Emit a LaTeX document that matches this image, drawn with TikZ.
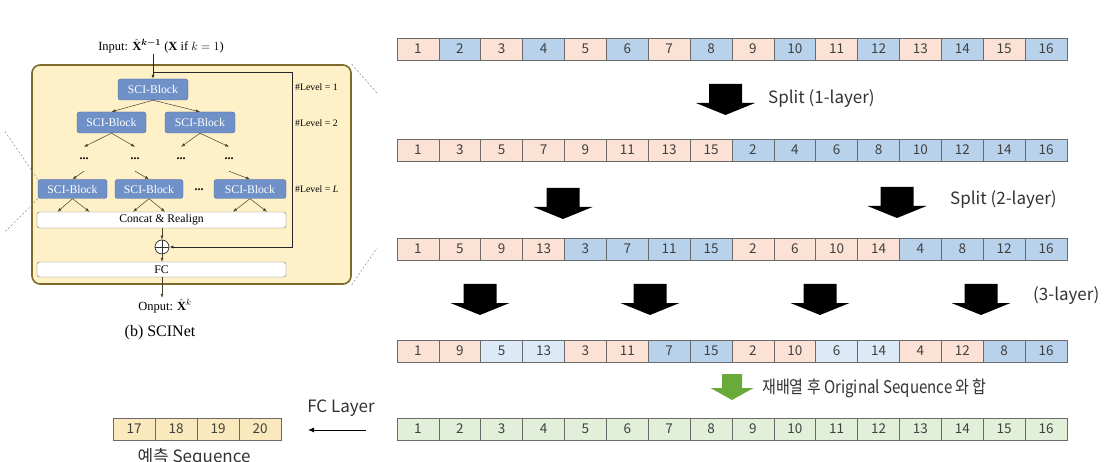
\documentclass[tikz,border=0pt]{standalone}
\usepackage{fontspec}
\usepackage{bm}
\setmainfont{Liberation Serif}
\newfontfamily\kr{Noto Sans CJK KR}
\newfontfamily\krc[FakeStretch=0.86]{Noto Sans CJK KR}
\usetikzlibrary{arrows.meta,calc}
\definecolor{pinkc}{HTML}{FBE2D5}
\definecolor{bluec}{HTML}{B9D2EB}
\definecolor{lbluec}{HTML}{DCEAF7}
\definecolor{greenc}{HTML}{E3F0D9}
\definecolor{yellc}{HTML}{F9E9BC}
\definecolor{cellborder}{HTML}{6A6A6A}
\definecolor{boxfill}{HTML}{FEF0C7}
\definecolor{boxborder}{HTML}{7E6A2A}
\definecolor{scifill}{HTML}{7090C8}
\definecolor{sciborder}{HTML}{4E6C9E}
\definecolor{treeline}{HTML}{4A4030}
\definecolor{arrgreen}{HTML}{6AAA3A}
\begin{document}
\begin{tikzpicture}[x=1pt,y=-1pt,
 cell/.style={draw=cellborder, line width=0.7pt, minimum width=41.875pt, minimum height=22pt, inner sep=0pt, font=\kr\fontsize{13.5}{15}\selectfont, text=black!75},
 sci/.style={draw=sciborder, fill=scifill, rounded corners=2.5pt, text=white, minimum height=21pt, minimum width=70pt, inner sep=0pt, font=\fontsize{11.7}{13}\selectfont},
 wbar/.style={draw=black!55, fill=white, rounded corners=2.5pt, minimum width=249pt, inner sep=0pt, font=\fontsize{11.7}{13}\selectfont},
 tree/.style={draw=treeline, line width=0.5pt, -{Latex[length=4pt,width=3pt]}},
 mainline/.style={draw=black!85, line width=0.9pt, -{Latex[length=4pt,width=3pt]}},
 zoomline/.style={draw=black!45, dash pattern=on 2pt off 2pt, line width=0.5pt},
 lvl/.style={anchor=west, font=\fontsize{9.8}{11}\selectfont, inner sep=0pt},
 dots/.style={font=\bfseries\fontsize{12}{12}\selectfont, inner sep=0pt, minimum height=24pt},
 lab/.style={anchor=west, font=\kr\fontsize{17}{19}\selectfont, text=black!80, inner sep=0pt},
 downarr/.pic={\path[pic actions] (-16.5,0) -- (16.5,0) -- (16.5,19) -- (29.5,19) -- (0,31) -- (-29.5,19) -- (-16.5,19) -- cycle;},
 greenarr/.pic={\path[pic actions] (-10,0) -- (10,0) -- (10,14) -- (21.5,14) -- (0,26) -- (-21.5,14) -- (-10,14) -- cycle;},
]
\useasboundingbox (0,0) rectangle (1108,462);
\fill[white] (0,0) rectangle (1108,462);

% ---------------- sequences ----------------
\foreach \n/\c [count=\i] in {1/pinkc,2/bluec,3/pinkc,4/bluec,5/pinkc,6/bluec,7/pinkc,8/bluec,9/pinkc,10/bluec,11/pinkc,12/bluec,13/pinkc,14/bluec,15/pinkc,16/bluec}
  \node[cell, fill=\c] (ra\i) at ({397+(\i-0.5)*41.875}, 49) {\n};
\foreach \n/\c [count=\i] in {1/pinkc,3/pinkc,5/pinkc,7/pinkc,9/pinkc,11/pinkc,13/pinkc,15/pinkc,2/bluec,4/bluec,6/bluec,8/bluec,10/bluec,12/bluec,14/bluec,16/bluec}
  \node[cell, fill=\c] (rb\i) at ({397+(\i-0.5)*41.875}, 150) {\n};
\foreach \n/\c [count=\i] in {1/pinkc,5/pinkc,9/pinkc,13/pinkc,3/bluec,7/bluec,11/bluec,15/bluec,2/pinkc,6/pinkc,10/pinkc,14/pinkc,4/bluec,8/bluec,12/bluec,16/bluec}
  \node[cell, fill=\c] (rc\i) at ({397+(\i-0.5)*41.875}, 249) {\n};
\foreach \n/\c [count=\i] in {1/pinkc,9/pinkc,5/lbluec,13/lbluec,3/pinkc,11/pinkc,7/bluec,15/bluec,2/pinkc,10/pinkc,6/lbluec,14/lbluec,4/pinkc,12/pinkc,8/bluec,16/bluec}
  \node[cell, fill=\c] (rd\i) at ({397+(\i-0.5)*41.875}, 351) {\n};
\foreach \n [count=\i] in {1,...,16}
  \node[cell, fill=greenc] (re\i) at ({397+(\i-0.5)*41.875}, 429) {\n};
\foreach \n [count=\i] in {17,18,19,20}
  \node[cell, fill=yellc, minimum width=42pt] (p\i) at ({113+(\i-0.5)*42}, 429) {\n};

% block arrows
\pic[fill=black] at (725.5,84) {downarr};
\pic[fill=black] at (563,188) {downarr};
\pic[fill=black] at (897,187) {downarr};
\pic[fill=black] at (480,284) {downarr};
\pic[fill=black] at (650,284) {downarr};
\pic[fill=black] at (820,284) {downarr};
\pic[fill=black] at (981,284) {downarr};
\pic[fill=arrgreen] at (732,374) {greenarr};

% labels
\node[lab] (s1) at (768,99) {Split (1-layer)};
\node[lab] (s2) at (950,200) {Split (2-layer)};
\node[lab] (s3) at (1033,296) {(3-layer)};
\node[lab, font=\krc\fontsize{17.5}{19}\selectfont] (s4) at (762,388) {재배열 후 Original Sequence 와 합};
\node[lab, anchor=center] (fcl) at (341,408) {FC Layer};
\coordinate (fcA) at (366,430);
\coordinate (fcB) at (308,430);
\draw[-{Latex[length=6pt,width=5pt]}, line width=0.9pt] (fcA) -- (fcB);
\node[lab, anchor=center] (pred) at (194,457) {예측 Sequence};

% ---------------- SCINet ----------------
\node[draw=boxborder, fill=boxfill, line width=1.6pt, rounded corners=8pt, minimum width=319pt, minimum height=219pt, inner sep=0pt] (bigbox) at (191.5,174.5) {};

\node[font=\fontsize{12.5}{14}\selectfont, inner sep=1pt] (in) at (161,46) {Input: $\hat{\mathbf{X}}^{\bm{k-1}}$ ($\mathbf{X}$ if $k=1$)};

\node[sci] (b1) at (153,89.5) {SCI-Block};
\node[sci, minimum width=69pt] (b21) at (111.5,122.5) {SCI-Block};
\node[sci] (b22) at (200,122.5) {SCI-Block};
\node[dots] (d1) at (84,159) {...};
\node[dots] (d2) at (135,159) {...};
\node[dots] (d3) at (181,159) {...};
\node[dots] (d4) at (229,159) {...};
\node[sci, minimum width=69pt, minimum height=19pt] (c1) at (72.5,189) {SCI-Block};
\node[sci, minimum width=68pt, minimum height=19pt] (c2) at (149,189) {SCI-Block};
\node[sci, minimum width=72pt, minimum height=19pt] (c3) at (250,189) {SCI-Block};
\node[dots, minimum height=0pt] (d5) at (199,190) {...};
\node[wbar, minimum height=16pt] (cat) at (161.5,220) {Concat \& Realign};
\node[wbar, minimum height=15pt] (fc) at (161.5,269.5) {FC};
\node[circle, draw=black!80, fill=white, line width=0.7pt, minimum size=14pt, inner sep=0pt] (plus) at (162,247) {};
\draw[black!80, line width=0.7pt] (plus.north) -- (plus.south) (plus.west) -- (plus.east);

\node[lvl] (l1) at (295,87) {\#Level = 1};
\node[lvl] (l2) at (295,123) {\#Level = 2};
\node[lvl] (l3) at (295,189) {\#Level = \textit{L}};

% tree connectors
\draw[tree] (b1.south) -- (b21.north);
\draw[tree] (b1.south) -- (b22.north);
\draw[tree] (b21.south) -- (d1.north);
\draw[tree] (b21.south) -- (d2.north);
\draw[tree] (b22.south) -- (d3.north);
\draw[tree] (b22.south) -- (d4.north);
\draw[tree] (d1.south) -- (c1.north);
\draw[tree] (d2.south) -- (c2.north);
\draw[tree] (d4.south) -- (c3.north);
\draw[tree] (c1.south) -- ([xshift=-15pt]c1.south |- cat.north);
\draw[tree] (c1.south) -- ([xshift=17pt]c1.south |- cat.north);
\draw[tree] (c2.south) -- ([xshift=-16pt]c2.south |- cat.north);
\draw[tree] (c2.south) -- ([xshift=16pt]c2.south |- cat.north);
\draw[tree] (c3.south) -- ([xshift=-17pt]c3.south |- cat.north);
\draw[tree] (c3.south) -- ([xshift=17pt]c3.south |- cat.north);
\draw[tree] (cat.south -| plus) -- (plus.north);
\draw[tree] (plus.south) -- (fc.north -| plus);

\node[font=\fontsize{12.5}{14}\selectfont, inner sep=1pt] (out) at (165,306) {Onput: $\hat{\mathbf{X}}^{k}$};
\node[font=\fontsize{16}{18}\selectfont, inner sep=1pt] (capt) at (160,333) {(b) SCINet};
\draw[tree] (fc.south -| plus) -- (out.north -| plus);

\coordinate (lp1) at (292,72);
\coordinate (lp2) at (292,247);
\draw[mainline] (in.south -| b1.north) -- (b1.north);
\draw[mainline] (b1.north |- lp1) -- (lp1) -- (lp2) -- (plus.east);

% zoom lines
\coordinate (zr1) at (377,93);
\coordinate (zr2) at (377,248);
\coordinate (zl1) at (4,130);
\coordinate (zl2) at (5,232);
\draw[zoomline] (bigbox.north east) -- (zr1);
\draw[zoomline] (bigbox.south east) -- (zr2);
\draw[zoomline] (c1.north west) -- (zl1);
\draw[zoomline] (c1.south west) -- (zl2);
\end{tikzpicture}
\end{document}
